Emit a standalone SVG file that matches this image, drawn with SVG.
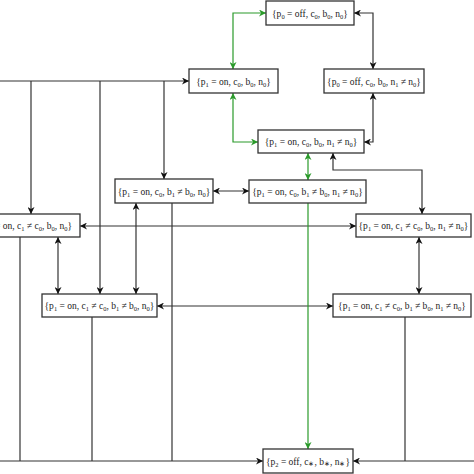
<svg xmlns="http://www.w3.org/2000/svg" width="474" height="474" viewBox="0 0 474 474">
<style>
.box{fill:#fff;stroke:#333;stroke-width:1.3}
.t{font-family:"Liberation Serif","Times New Roman",serif;font-size:9.5px;fill:#222;text-anchor:middle}
.s{font-size:6.5px}
.k{fill:none;stroke:#333;stroke-width:1.2}
.g{fill:none;stroke:#2a9a2a;stroke-width:1.2}
</style>
<defs>
<marker id="ak" viewBox="0 0 10 10" refX="10" refY="5" markerWidth="7" markerHeight="7" markerUnits="userSpaceOnUse" orient="auto-start-reverse"><path d="M0,0 L10,5 L0,10 L3,5 z" fill="#111"/></marker>
<marker id="ag" viewBox="0 0 10 10" refX="10" refY="5" markerWidth="7" markerHeight="7" markerUnits="userSpaceOnUse" orient="auto-start-reverse"><path d="M0,0 L10,5 L0,10 L3,5 z" fill="#2a9a2a"/></marker>
</defs>
<g id="connectors">
<path class="g" d="M233,69 V13 H266" marker-start="url(#ag)" marker-end="url(#ag)"/>
<path class="k" d="M354,13 H373 V69" marker-start="url(#ak)" marker-end="url(#ak)"/>
<path class="g" d="M233,93 V142 H258" marker-start="url(#ag)" marker-end="url(#ag)"/>
<path class="k" d="M373,93 V142 H364" marker-start="url(#ak)" marker-end="url(#ak)"/>
<path class="g" d="M308,153 V180" marker-start="url(#ag)" marker-end="url(#ag)"/>
<path class="k" d="M333,153 V170 H422 V214" marker-start="url(#ak)" marker-end="url(#ak)"/>
<path class="k" d="M213,191 H249" marker-start="url(#ak)" marker-end="url(#ak)"/>
<path class="k" d="M0,81 H189" marker-end="url(#ak)"/>
<path class="k" d="M31,81 V214" marker-end="url(#ak)"/>
<path class="k" d="M100,81 V294" marker-end="url(#ak)"/>
<path class="k" d="M164,81 V179" marker-end="url(#ak)"/>
<path class="k" d="M58,237 V294" marker-start="url(#ak)" marker-end="url(#ak)"/>
<path class="k" d="M136,203 V294" marker-start="url(#ak)" marker-end="url(#ak)"/>
<path class="k" d="M80,226 H356" marker-start="url(#ak)" marker-end="url(#ak)"/>
<path class="k" d="M157,306 H333" marker-start="url(#ak)" marker-end="url(#ak)"/>
<path class="k" d="M419,237 V294" marker-start="url(#ak)" marker-end="url(#ak)"/>
<path class="k" d="M0,461 H263" marker-end="url(#ak)"/>
<path class="k" d="M20,237 V461"/>
<path class="k" d="M92,317 V461"/>
<path class="k" d="M172,203 V461"/>
<path class="k" d="M474,461 H353" marker-end="url(#ak)"/>
<path class="k" d="M405,317 V461"/>
<path class="g" d="M308,203 V449" marker-end="url(#ag)"/>
</g>
<g id="nA"><rect class="box" x="266" y="1" width="88" height="24"/><text class="t" x="310" y="16.5">{p<tspan class="s" dy="2">0</tspan><tspan dy="-2"> = off, c</tspan><tspan class="s" dy="2">0</tspan><tspan dy="-2">, b</tspan><tspan class="s" dy="2">0</tspan><tspan dy="-2">, n</tspan><tspan class="s" dy="2">0</tspan><tspan dy="-2">}</tspan></text></g>
<g id="nB"><rect class="box" x="189" y="69" width="89" height="24"/><text class="t" x="233.5" y="84.5">{p<tspan class="s" dy="2">1</tspan><tspan dy="-2"> = on, c</tspan><tspan class="s" dy="2">0</tspan><tspan dy="-2">, b</tspan><tspan class="s" dy="2">0</tspan><tspan dy="-2">, n</tspan><tspan class="s" dy="2">0</tspan><tspan dy="-2">}</tspan></text></g>
<g id="nC"><rect class="box" x="324" y="69" width="100" height="24"/><text class="t" x="374" y="84.5">{p<tspan class="s" dy="2">0</tspan><tspan dy="-2"> = off, c</tspan><tspan class="s" dy="2">0</tspan><tspan dy="-2">, b</tspan><tspan class="s" dy="2">0</tspan><tspan dy="-2">, n</tspan><tspan class="s" dy="2">1</tspan><tspan dy="-2"> ≠ n</tspan><tspan class="s" dy="2">0</tspan><tspan dy="-2">}</tspan></text></g>
<g id="nD"><rect class="box" x="258" y="130" width="106" height="23"/><text class="t" x="311" y="145">{p<tspan class="s" dy="2">1</tspan><tspan dy="-2"> = on, c</tspan><tspan class="s" dy="2">0</tspan><tspan dy="-2">, b</tspan><tspan class="s" dy="2">0</tspan><tspan dy="-2">, n</tspan><tspan class="s" dy="2">1</tspan><tspan dy="-2"> ≠ n</tspan><tspan class="s" dy="2">0</tspan><tspan dy="-2">}</tspan></text></g>
<g id="nE"><rect class="box" x="249" y="180" width="117" height="23"/><text class="t" x="307.5" y="195">{p<tspan class="s" dy="2">1</tspan><tspan dy="-2"> = on, c</tspan><tspan class="s" dy="2">0</tspan><tspan dy="-2">, b</tspan><tspan class="s" dy="2">1</tspan><tspan dy="-2"> ≠ b</tspan><tspan class="s" dy="2">0</tspan><tspan dy="-2">, n</tspan><tspan class="s" dy="2">1</tspan><tspan dy="-2"> ≠ n</tspan><tspan class="s" dy="2">0</tspan><tspan dy="-2">}</tspan></text></g>
<g id="nF"><rect class="box" x="115" y="179" width="98" height="24"/><text class="t" x="164" y="194.5">{p<tspan class="s" dy="2">1</tspan><tspan dy="-2"> = on, c</tspan><tspan class="s" dy="2">0</tspan><tspan dy="-2">, b</tspan><tspan class="s" dy="2">1</tspan><tspan dy="-2"> ≠ b</tspan><tspan class="s" dy="2">0</tspan><tspan dy="-2">, n</tspan><tspan class="s" dy="2">0</tspan><tspan dy="-2">}</tspan></text></g>
<g id="nG"><rect class="box" x="-32" y="214" width="112" height="23"/><text class="t" x="26" y="229">{p<tspan class="s" dy="2">1</tspan><tspan dy="-2"> = on, c</tspan><tspan class="s" dy="2">1</tspan><tspan dy="-2"> ≠ c</tspan><tspan class="s" dy="2">0</tspan><tspan dy="-2">, b</tspan><tspan class="s" dy="2">0</tspan><tspan dy="-2">, n</tspan><tspan class="s" dy="2">0</tspan><tspan dy="-2">}</tspan></text></g>
<g id="nH"><rect class="box" x="356" y="214" width="115" height="23"/><text class="t" x="413.5" y="229">{p<tspan class="s" dy="2">1</tspan><tspan dy="-2"> = on, c</tspan><tspan class="s" dy="2">1</tspan><tspan dy="-2"> ≠ c</tspan><tspan class="s" dy="2">0</tspan><tspan dy="-2">, b</tspan><tspan class="s" dy="2">0</tspan><tspan dy="-2">, n</tspan><tspan class="s" dy="2">1</tspan><tspan dy="-2"> ≠ n</tspan><tspan class="s" dy="2">0</tspan><tspan dy="-2">}</tspan></text></g>
<g id="nI"><rect class="box" x="42" y="294" width="115" height="23"/><text class="t" x="99.5" y="309">{p<tspan class="s" dy="2">1</tspan><tspan dy="-2"> = on, c</tspan><tspan class="s" dy="2">1</tspan><tspan dy="-2"> ≠ c</tspan><tspan class="s" dy="2">0</tspan><tspan dy="-2">, b</tspan><tspan class="s" dy="2">1</tspan><tspan dy="-2"> ≠ b</tspan><tspan class="s" dy="2">0</tspan><tspan dy="-2">, n</tspan><tspan class="s" dy="2">0</tspan><tspan dy="-2">}</tspan></text></g>
<g id="nJ"><rect class="box" x="333" y="294" width="138" height="23"/><text class="t" x="402" y="309">{p<tspan class="s" dy="2">1</tspan><tspan dy="-2"> = on, c</tspan><tspan class="s" dy="2">1</tspan><tspan dy="-2"> ≠ c</tspan><tspan class="s" dy="2">0</tspan><tspan dy="-2">, b</tspan><tspan class="s" dy="2">1</tspan><tspan dy="-2"> ≠ b</tspan><tspan class="s" dy="2">0</tspan><tspan dy="-2">, n</tspan><tspan class="s" dy="2">1</tspan><tspan dy="-2"> ≠ n</tspan><tspan class="s" dy="2">0</tspan><tspan dy="-2">}</tspan></text></g>
<g id="nK"><rect class="box" x="263" y="449" width="90" height="24"/><text class="t" x="308" y="464.5">{p<tspan class="s" dy="2">2</tspan><tspan dy="-2"> = off, c</tspan><tspan class="s" dy="1">∗</tspan><tspan dy="-1">, b</tspan><tspan class="s" dy="1">∗</tspan><tspan dy="-1">, n</tspan><tspan class="s" dy="1">∗</tspan><tspan dy="-1">}</tspan></text></g>
</svg>
